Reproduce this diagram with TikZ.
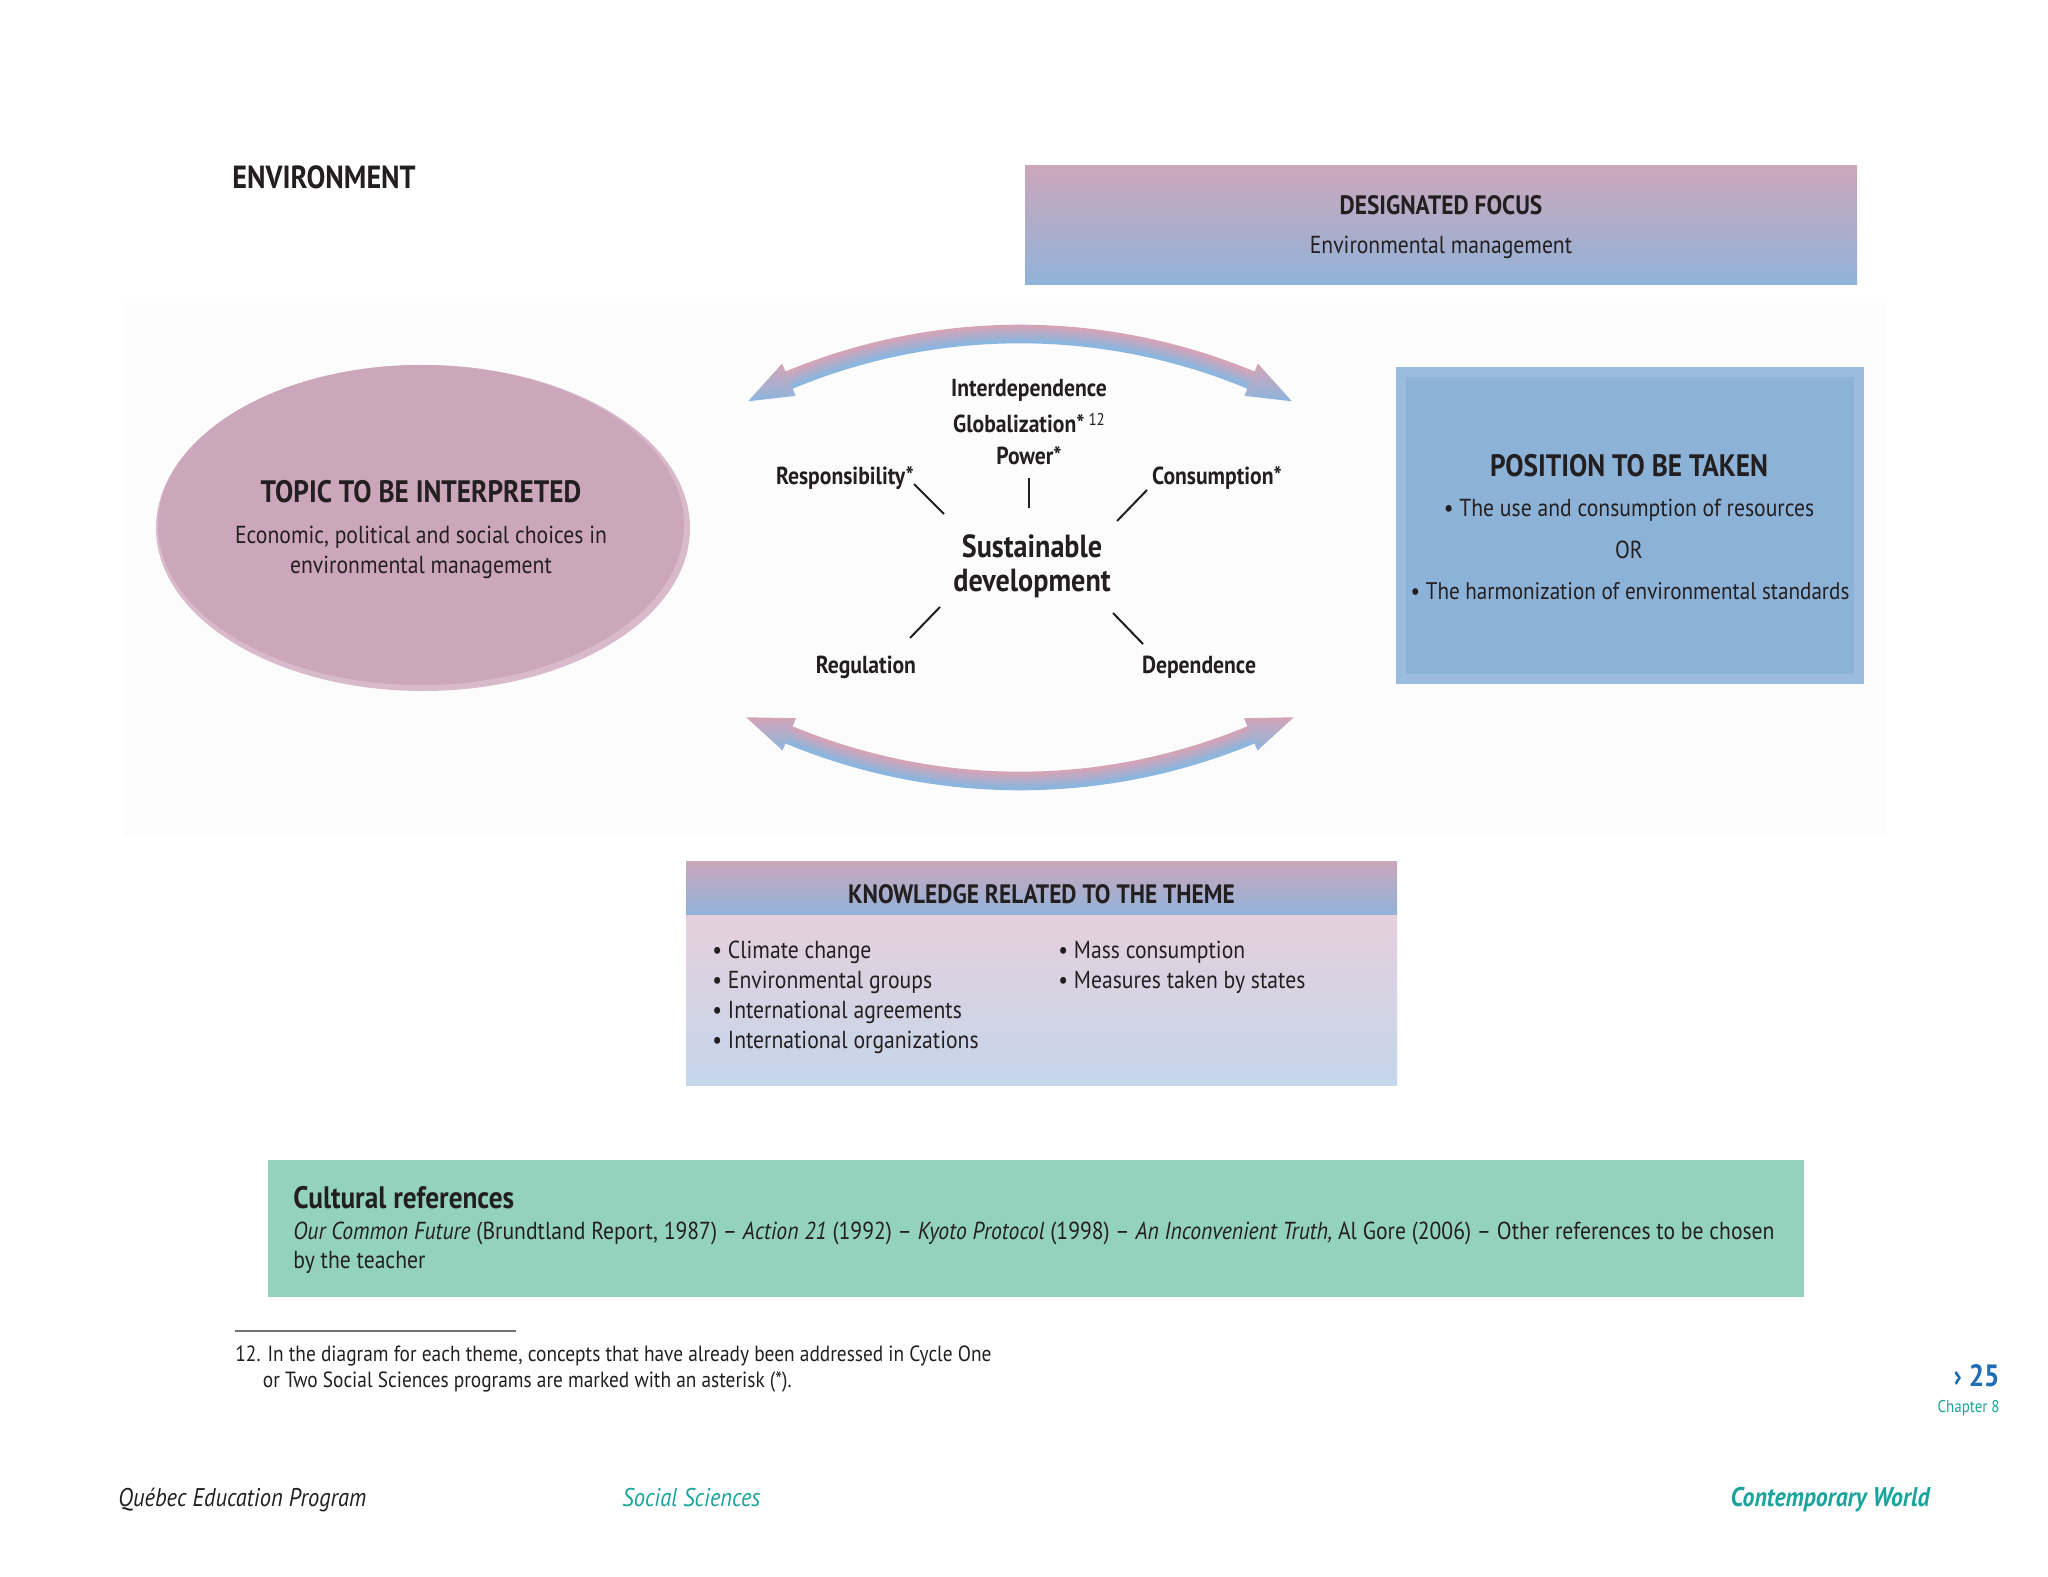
\documentclass[tikz,border=0pt]{standalone}
\usepackage{fontspec}
\setmainfont{PT Sans}[FakeStretch=0.88]
\usetikzlibrary{arrows.meta,calc,shapes.geometric}

\definecolor{ink}{HTML}{231F20}
\definecolor{mauve}{HTML}{CCA6BA}
\definecolor{mauveshade}{HTML}{D8BACA}
\definecolor{skyblue}{HTML}{8CB2D7}
\definecolor{skyrim}{HTML}{9CBCDF}
\definecolor{headpink}{HTML}{CBA7BA}
\definecolor{headblue}{HTML}{91B3DA}
\definecolor{bodypink}{HTML}{E5D0DC}
\definecolor{bodyblue}{HTML}{C5D6EB}
\definecolor{mint}{HTML}{93D3BE}
\definecolor{arcpink}{HTML}{D3A4B7}
\definecolor{arcblue}{HTML}{8CB6DE}
\definecolor{pageteal}{HTML}{1BA49B}
\definecolor{pageblue}{HTML}{1F6DB5}

\begin{document}
\begin{tikzpicture}[x=0.5pt,y=-0.5pt,
  every node/.style={text=ink,inner sep=0pt},
  concept/.style={font=\fontsize{12.3}{14}\selectfont\bfseries},
  heading/.style={font=\fontsize{13.3}{15}\selectfont\bfseries},
  bigheading/.style={font=\fontsize{15.5}{18}\selectfont\bfseries},
  body/.style={font=\fontsize{12.3}{15}\selectfont},
  tick/.style={ink,line width=1pt},
  band/.style={line width=1.8pt}]
  \useasboundingbox (0,0) rectangle (2048,1577);
  \fill[white] (0,0) rectangle (2048,1577);
  \fill[black!1.3] (124,303) rectangle (1887,836);

  \node[anchor=west,font=\fontsize{16}{18}\selectfont\bfseries] (theme) at (232,177) {ENVIRONMENT};

  % designated focus
  \node[top color=headpink,bottom color=headblue,minimum width=416pt,minimum height=59.5pt]
    (focus) at (1441,225.5) {};
  \node[heading] (focus title) at (1441,205) {DESIGNATED FOCUS};
  \node[body] (focus text) at (1441,247) {Environmental management};

  % topic
  \fill[mauveshade] (423,528) ellipse (267 and 163);
  \node[ellipse,fill=mauve,minimum width=263pt,minimum height=160pt] (topic) at (421,525) {};
  \node[bigheading] (topic title) at (421,492) {TOPIC TO BE INTERPRETED};
  \node[body,align=center] (topic text) at (421,552)
    {Economic, political and social choices in\\environmental management};

  % curved arrows
  \begin{scope}[shift={(1020,935)}]
    \foreach \i in {0,...,5}{
      \pgfmathtruncatemacro\mix{100-20*\i}
      \draw[band,arcpink!\mix!arcblue] (-113:{608.5-3*\i}) arc (-113:-67:{608.5-3*\i});
    }
    \shade[top color=arcpink,bottom color=arcblue] (-112.6:619) -- (-117:599) -- (-112.6:584) -- cycle;
    \shade[top color=arcpink,bottom color=arcblue] (-67.4:619) -- (-63:599) -- (-67.4:584) -- cycle;
  \end{scope}
  \begin{scope}[shift={(1020,180)}]
    \foreach \i in {0,...,5}{
      \pgfmathtruncatemacro\mix{100-20*\i}
      \draw[band,arcpink!\mix!arcblue] (67:{593.5+3*\i}) arc (67:113:{593.5+3*\i});
    }
    \shade[top color=arcpink,bottom color=arcblue] (112.6:583) -- (117:603) -- (112.6:618) -- cycle;
    \shade[top color=arcpink,bottom color=arcblue] (67.4:583) -- (63:603) -- (67.4:618) -- cycle;
  \end{scope}

  % concepts
  \node[concept] (inter) at (1029,390) {Interdependence};
  \node[concept] (glob) at (1029,423) {Globalization*\,\raisebox{3.5pt}{\fontsize{8.5}{9}\selectfont\mdseries 12}};
  \node[concept] (power) at (1029,456) {Power*};
  \node[concept] (resp) at (845,478) {Responsibility*};
  \node[concept] (cons) at (1217,478) {Consumption*};
  \node[font=\fontsize{16}{17}\selectfont\bfseries,align=center] (sd) at (1032,566)
    {Sustainable\\development};
  \node[concept] (reg) at (866,667) {Regulation};
  \node[concept] (dep) at (1199,667) {Dependence};

  \coordinate (resp a) at (914,484);  \coordinate (resp b) at (944,514);
  \coordinate (power a) at (1029,478); \coordinate (power b) at (1029,508);
  \coordinate (cons a) at (1147,490);  \coordinate (cons b) at (1117,521);
  \coordinate (reg a) at (940,607);    \coordinate (reg b) at (910,638);
  \coordinate (dep a) at (1113,613);   \coordinate (dep b) at (1143,644);
  \foreach \t in {resp,power,cons,reg,dep}
    \draw[tick] (\t\space a) -- (\t\space b);

  % position
  \node[fill=skyblue,draw=skyrim,line width=5pt,minimum width=229pt,minimum height=153.5pt]
    (position) at (1630,525.5) {};
  \node[bigheading] (position title) at (1629,466) {POSITION TO BE TAKEN};
  \node[body] (position one) at (1629,510) {\textbullet\ The use and consumption of resources};
  \node[body] (position or) at (1629,550) {OR};
  \node[body,font=\fontsize{12}{15}\selectfont] (position two) at (1630,591) {\textbullet\ The harmonization of environmental standards};

  % knowledge
  \node[top color=headpink,bottom color=headblue,minimum width=355.5pt,minimum height=27pt]
    (know head) at (1041.5,888) {};
  \node[top color=bodypink,bottom color=bodyblue,minimum width=355.5pt,minimum height=85pt]
    (know body) at (1041.5,1000) {};
  \node[heading] (know title) at (1041.5,894) {KNOWLEDGE RELATED TO THE THEME};
  \node[anchor=north west,align=left,font=\fontsize{12.3}{14.85}\selectfont] (know left) at (712,941)
    {\textbullet\ Climate change\\\textbullet\ Environmental groups\\
     \textbullet\ International agreements\\\textbullet\ International organizations};
  \node[anchor=north west,align=left,font=\fontsize{12.3}{14.85}\selectfont] (know right) at (1058,941)
    {\textbullet\ Mass consumption\\\textbullet\ Measures taken by states};

  % cultural references
  \node[fill=mint,minimum width=768pt,minimum height=68.5pt] (culture) at (1036,1228.5) {};
  \node[anchor=base west,font=\fontsize{15.5}{18}\selectfont\bfseries] (culture title) at (293,1208)
    {Cultural references};
  \node[anchor=north west,align=left,font=\fontsize{12.3}{14.5}\selectfont] (culture text) at (293,1222)
    {\textit{Our Common Future} (Brundtland Report, 1987) -- \textit{Action 21} (1992) --
     \textit{Kyoto Protocol} (1998) -- \textit{An Inconvenient Truth,} Al Gore (2006) --
     Other references to be chosen\\by the teacher};

  % footnote and page
  \draw[black!55,line width=0.6pt] (235,1331) -- (516,1331);
  \node[anchor=north west,align=left,font=\fontsize{11}{13}\selectfont] (note) at (235,1345)
    {12. In the diagram for each theme, concepts that have already been addressed in Cycle One\\
     \hspace*{1.25em}or Two Social Sciences programs are marked with an asterisk (*).};
  \node[anchor=base east,font=\fontsize{15.4}{17}\selectfont\bfseries,text=pageblue] (page) at (2000,1386) {› 25};
  \node[anchor=base east,font=\fontsize{8.5}{10}\selectfont,text=pageteal] (chapter) at (2000,1412) {Chapter 8};
  \node[anchor=base west,font=\fontsize{12.8}{14}\selectfont\itshape] (program) at (118,1506) {Québec Education Program};
  \node[anchor=base west,font=\fontsize{12.8}{14}\selectfont\itshape,text=pageteal] (subject) at (622,1506) {Social Sciences};
  \node[anchor=base east,font=\fontsize{13.5}{14}\selectfont\bfseries\itshape,text=pageteal] (world) at (1930,1506) {Contemporary World};
\end{tikzpicture}
\end{document}
